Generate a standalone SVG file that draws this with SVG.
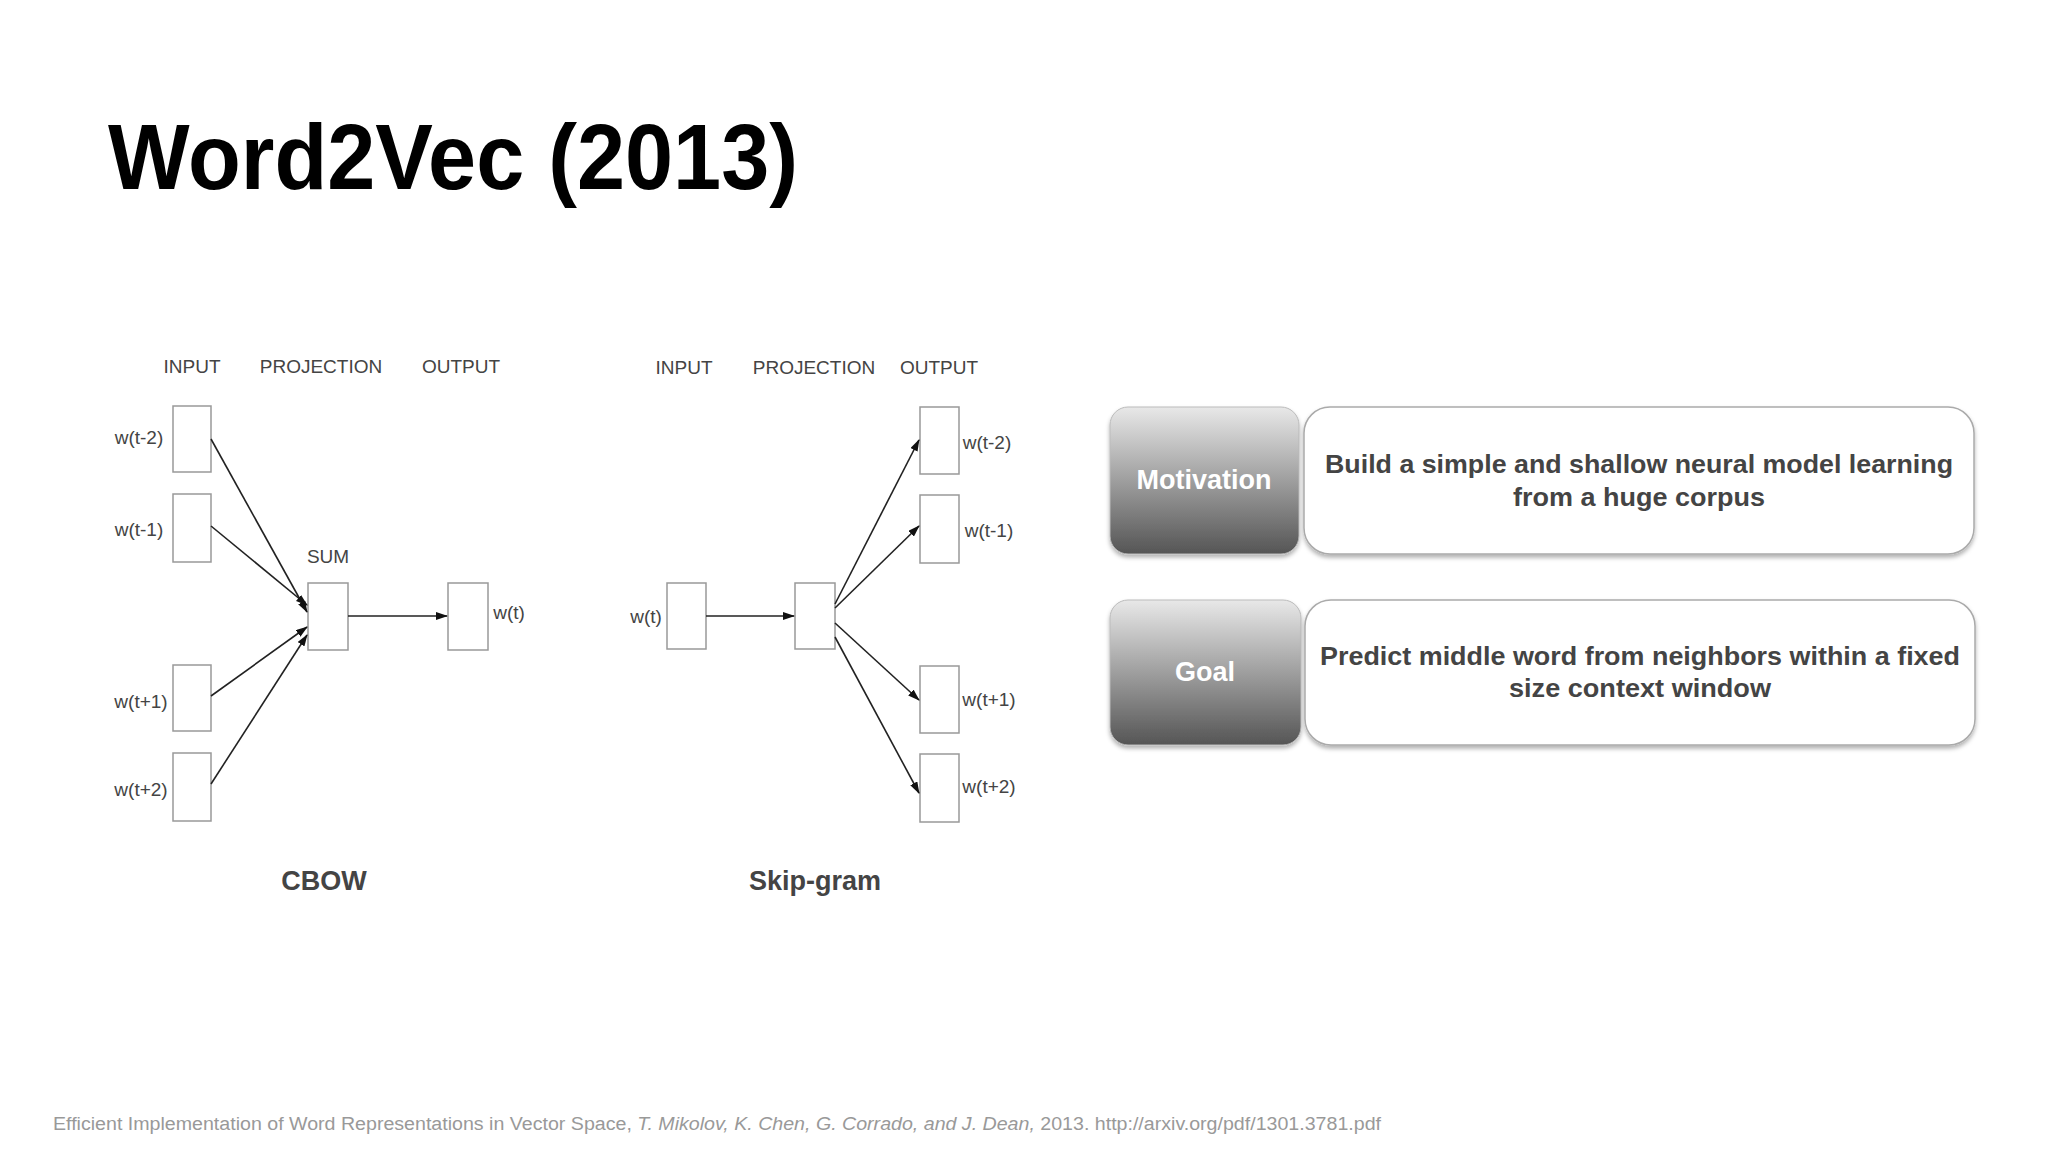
<svg xmlns="http://www.w3.org/2000/svg" width="2048" height="1152" viewBox="0 0 2048 1152">
<style>
.t{font-family:"Liberation Sans",Arial,sans-serif;fill:#444}
.s{font-size:19px}
.b{fill:#fff;stroke:#999;stroke-width:1.5}
.c line{stroke:#222;stroke-width:1.6;marker-end:url(#a)}
.hb{font-family:"Liberation Sans",Arial,sans-serif;font-weight:bold}
</style>
<defs>
<marker id="a" markerWidth="12" markerHeight="8" refX="11" refY="4" orient="auto" markerUnits="userSpaceOnUse"><path d="M0,0L12,4L0,8z" fill="#111"/></marker>
<linearGradient id="g" x1="0" y1="0" x2="0" y2="1"><stop offset="0" stop-color="#e8e8e8"/><stop offset="1" stop-color="#555"/></linearGradient>
<filter id="sh" x="-5%" y="-5%" width="110%" height="120%"><feDropShadow dx="0" dy="3" stdDeviation="2" flood-color="#000" flood-opacity="0.3"/></filter>
</defs>
<rect width="2048" height="1152" fill="#fff"/>
<text x="108" y="189" class="hb" font-size="92" fill="#000" textLength="690" lengthAdjust="spacingAndGlyphs">Word2Vec (2013)</text>

<g id="cbow" class="t s" text-anchor="middle">
<text x="192" y="373">INPUT</text><text x="321" y="373">PROJECTION</text><text x="461" y="373">OUTPUT</text>
<text x="328" y="563">SUM</text>
<rect class="b" x="173" y="406" width="38" height="66"/>
<rect class="b" x="173" y="494" width="38" height="68"/>
<rect class="b" x="173" y="665" width="38" height="66"/>
<rect class="b" x="173" y="753" width="38" height="68"/>
<rect class="b" x="308" y="583" width="40" height="67"/>
<rect class="b" x="448" y="583" width="40" height="67"/>
<text x="139" y="444">w(t-2)</text><text x="139" y="536">w(t-1)</text><text x="141" y="708">w(t+1)</text><text x="141" y="796">w(t+2)</text>
<text x="509" y="619">w(t)</text>
<text x="324" y="890" class="hb" font-size="27" fill="#444">CBOW</text>
</g>

<g id="skipgram" class="t s" text-anchor="middle">
<text x="684" y="374">INPUT</text><text x="814" y="374">PROJECTION</text><text x="939" y="374">OUTPUT</text>
<rect class="b" x="667" y="583" width="39" height="66"/>
<rect class="b" x="795" y="583" width="40" height="66"/>
<rect class="b" x="920" y="407" width="39" height="67"/>
<rect class="b" x="920" y="495" width="39" height="68"/>
<rect class="b" x="920" y="666" width="39" height="67"/>
<rect class="b" x="920" y="754" width="39" height="68"/>
<text x="646" y="623">w(t)</text>
<text x="987" y="449">w(t-2)</text><text x="989" y="537">w(t-1)</text><text x="989" y="706">w(t+1)</text><text x="989" y="793">w(t+2)</text>
<text x="815" y="890" class="hb" font-size="27" fill="#444">Skip-gram</text>
</g>

<g id="connectors" class="c">
<line x1="211" y1="439" x2="307" y2="612"/>
<line x1="211" y1="526" x2="307" y2="605"/>
<line x1="211" y1="696" x2="307" y2="627"/>
<line x1="211" y1="784" x2="307" y2="635"/>
<line x1="348" y1="616" x2="447" y2="616"/>
<line x1="706" y1="616" x2="794" y2="616"/>
<line x1="835" y1="604" x2="919" y2="440"/>
<line x1="835" y1="608" x2="919" y2="526"/>
<line x1="835" y1="623" x2="919" y2="700"/>
<line x1="835" y1="637" x2="919" y2="793"/>
</g>

<g id="motivation">
<rect x="1110" y="407" width="189" height="147" rx="18" fill="url(#g)" stroke="#bbb" filter="url(#sh)"/>
<text x="1204" y="489" class="hb" font-size="27" fill="#fff" text-anchor="middle">Motivation</text>
<rect x="1304" y="407" width="670" height="147" rx="26" fill="#fff" stroke="#aaa" stroke-width="1.5" filter="url(#sh)"/>
<text class="hb" font-size="26" fill="#444" text-anchor="middle"><tspan x="1639" y="473" textLength="628" lengthAdjust="spacingAndGlyphs">Build a simple and shallow neural model learning</tspan><tspan x="1639" y="506" textLength="252" lengthAdjust="spacingAndGlyphs">from a huge corpus</tspan></text>
</g>
<g id="goal">
<rect x="1110" y="600" width="191" height="145" rx="18" fill="url(#g)" stroke="#bbb" filter="url(#sh)"/>
<text x="1205" y="681" class="hb" font-size="27" fill="#fff" text-anchor="middle">Goal</text>
<rect x="1305" y="600" width="670" height="145" rx="26" fill="#fff" stroke="#aaa" stroke-width="1.5" filter="url(#sh)"/>
<text class="hb" font-size="26" fill="#444" text-anchor="middle"><tspan x="1640" y="665" textLength="640" lengthAdjust="spacingAndGlyphs">Predict middle word from neighbors within a fixed</tspan><tspan x="1640" y="697" textLength="262" lengthAdjust="spacingAndGlyphs">size context window</tspan></text>
</g>

<text x="53" y="1130" font-family="Liberation Sans,Arial,sans-serif" font-size="18" fill="#999" textLength="1328" lengthAdjust="spacingAndGlyphs">Efficient Implementation of Word Representations in Vector Space, <tspan font-style="italic">T. Mikolov, K. Chen, G. Corrado, and J. Dean,</tspan> 2013. http://arxiv.org/pdf/1301.3781.pdf</text>
</svg>
